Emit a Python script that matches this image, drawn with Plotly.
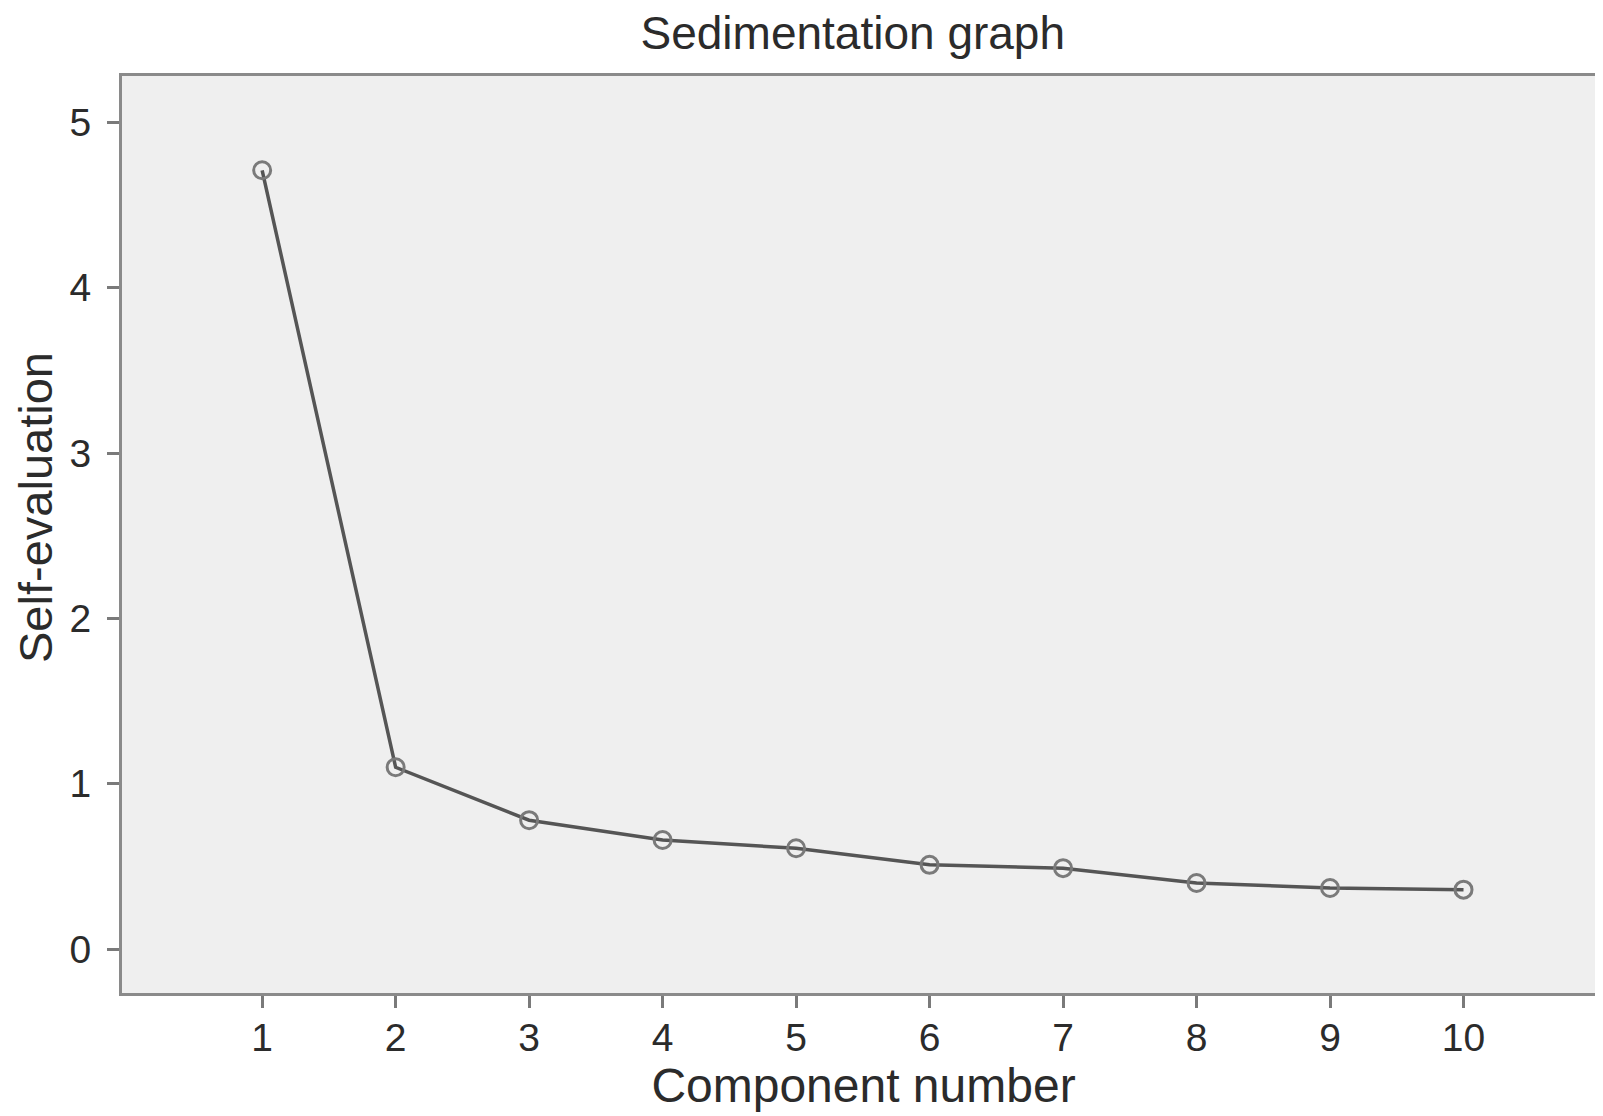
import plotly.graph_objects as go

# Scree plot values
components = [1, 2, 3, 4, 5, 6, 7, 8, 9, 10]
eigenvalues = [4.71, 1.10, 0.78, 0.66, 0.61, 0.51, 0.49, 0.40, 0.37, 0.36]
y_ticks = [0, 1, 2, 3, 4, 5]

FONT = "Liberation Sans, Arial, sans-serif"

fig = go.Figure()

fig.add_trace(go.Scatter(x = components,
                         y = eigenvalues,
                         mode = "lines+markers",
                         line = dict(color = "#555555", width = 3.5),
                         marker = dict(symbol = "circle-open", size = 17,
                                       color = "#7a7a7a",
                                       line = dict(width = 3, color = "#7a7a7a")),
                         showlegend = False))

fig.update_layout(width = 1603, height = 1116,
                  paper_bgcolor = "white",
                  plot_bgcolor = "#efefef",
                  margin = dict(l = 114, r = 3, t = 68, b = 131),
                  font = dict(family = FONT, color = "#2b2b2b", size = 39),
                  title = dict(text = "Sedimentation graph",
                               x = 0.527, xanchor = "center",
                               y = 0.978, yanchor = "middle",
                               font = dict(size = 46, color = "#2b2b2b")))

# y axis title placed as annotation: it sits a little above the plot centre
fig.add_annotation(text = "Self-evaluation",
                   xref = "paper", yref = "paper",
                   x = -0.058, y = 0.53,
                   xanchor = "center", yanchor = "middle",
                   textangle = -90, showarrow = False,
                   font = dict(size = 47, color = "#2b2b2b"))

fig.update_xaxes(range = [-0.05, 11.06],
                 tickvals = components,
                 showgrid = False, zeroline = False,
                 showline = True, linecolor = "#8a8a8a", linewidth = 3,
                 mirror = True,
                 ticks = "outside", ticklen = 12, tickwidth = 3, tickcolor = "#7a7a7a",
                 ticklabelstandoff = -4,
                 title = dict(text = "Component number", font = dict(size = 48), standoff = 2))

fig.update_yaxes(range = [-0.265, 5.28],
                 tickvals = y_ticks,
                 showgrid = False, zeroline = False,
                 showline = True, linecolor = "#8a8a8a", linewidth = 3,
                 mirror = True,
                 ticks = "outside", ticklen = 12, tickwidth = 3, tickcolor = "#7a7a7a",
                 ticklabelstandoff = 8)

fig.write_html("out.html")
